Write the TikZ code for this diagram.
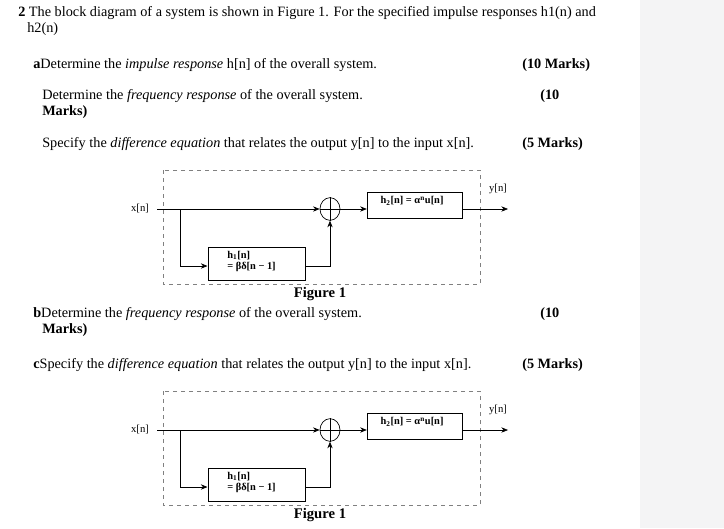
\documentclass[tikz,border=0pt]{standalone}
\usepackage{fontspec}
\setmainfont{Liberation Serif}
\usetikzlibrary{arrows.meta,shapes.geometric}
\begin{document}
\begin{tikzpicture}[x=0.75pt,y=-0.75pt,
  txt/.style={anchor=base west,inner sep=0pt,font=\fontsize{10.7}{12}\selectfont},
  blk/.style={draw,line width=0.5pt,inner sep=0pt},
  lbl/.style={inner sep=0pt,font=\fontsize{7.8}{8.5}\selectfont\bfseries},
  sig/.style={line width=0.5pt,-{Stealth[length=5pt,width=4pt]}},
  wire/.style={line width=0.5pt}]
\fill[white] (0,0) rectangle (724,528);
\fill[blue!4!gray!8] (640,0) rectangle (724,528);
\useasboundingbox (0,0) rectangle (724,528);
\node[txt] (t1) at (18,17) {\textbf{2} The block diagram of a system is shown in Figure 1. For the specified impulse responses h1(n) and};
\node[txt] (t2) at (27,33) {h2(n)};
\node[txt] (t3) at (33,69) {\textbf{a}Determine the \textit{impulse response} h[n] of the overall system.};
\node[txt] (m3) at (522,69) {\textbf{(10 Marks)}};
\node[txt] (t4) at (42,99) {Determine the \textit{frequency response} of the overall system.};
\node[txt] (m4) at (540,99) {\textbf{(10}};
\node[txt] (t4b) at (42,115) {\textbf{Marks)}};
\node[txt] (t5) at (42,147) {Specify the \textit{difference equation} that relates the output y[n] to the input x[n].};
\node[txt] (m5) at (522,147) {\textbf{(5 Marks)}};
\node[txt] (t6) at (33,317) {\textbf{b}Determine the \textit{frequency response} of the overall system.};
\node[txt] (m6) at (540,317) {\textbf{(10}};
\node[txt] (t6b) at (42,333) {\textbf{Marks)}};
\node[txt] (t7) at (33,368) {\textbf{c}Specify the \textit{difference equation} that relates the output y[n] to the input x[n].};
\node[txt] (m7) at (522,368) {\textbf{(5 Marks)}};
\foreach \dy/\p in {0/a,221/b}{
\begin{scope}[yshift=-\dy*0.75pt,name prefix=\p-]
  \draw[gray,dashed,line width=0.6pt] (163,170) rectangle (480,284);
  \node[inner sep=0pt,font=\fontsize{8}{9}\selectfont] (x) at (140,209) {x[n]};
  \coordinate (in) at (157,209);
  \coordinate (br) at (180,209);
  \node[draw,ellipse,minimum width=15pt,minimum height=17pt,inner sep=0pt,line width=0.5pt] (add) at (330,209) {};
  \draw[line width=0.5pt] (add.north) -- (add.south) (add.west) -- (add.east);
  \node[blk,minimum width=71pt,minimum height=19.5pt] (h2) at (414.5,205) {};
  \node[lbl] at (412,201) {h\textsubscript{2}[n] = α\textsuperscript{n}u[n]};
  \node[blk,minimum width=73pt,minimum height=25pt,align=left] (h1) at (256.5,263.5) {};
  \node[lbl,align=left,anchor=north west] at (227,251) {h\textsubscript{1}[n]\\= βδ[n − 1]};
  \coordinate (out) at (508,209);
  \node[inner sep=0pt,font=\fontsize{8}{9}\selectfont] (y) at (498,189) {y[n]};
  \draw[sig] (in) -- (add.west);
  \draw[sig] (add.east) -- (h2.west|-add.east);
  \draw[sig] (h2.east|-add.east) -- (out);
  \draw[sig] (br) |- (h1.west|-0,266);
  \draw[sig] (h1.east|-0,266) -| (add.south);
  \node[inner sep=0pt,font=\fontsize{11}{12}\selectfont\bfseries] (fig) at (320,294) {Figure 1};
\end{scope}}
\end{tikzpicture}
\end{document}
